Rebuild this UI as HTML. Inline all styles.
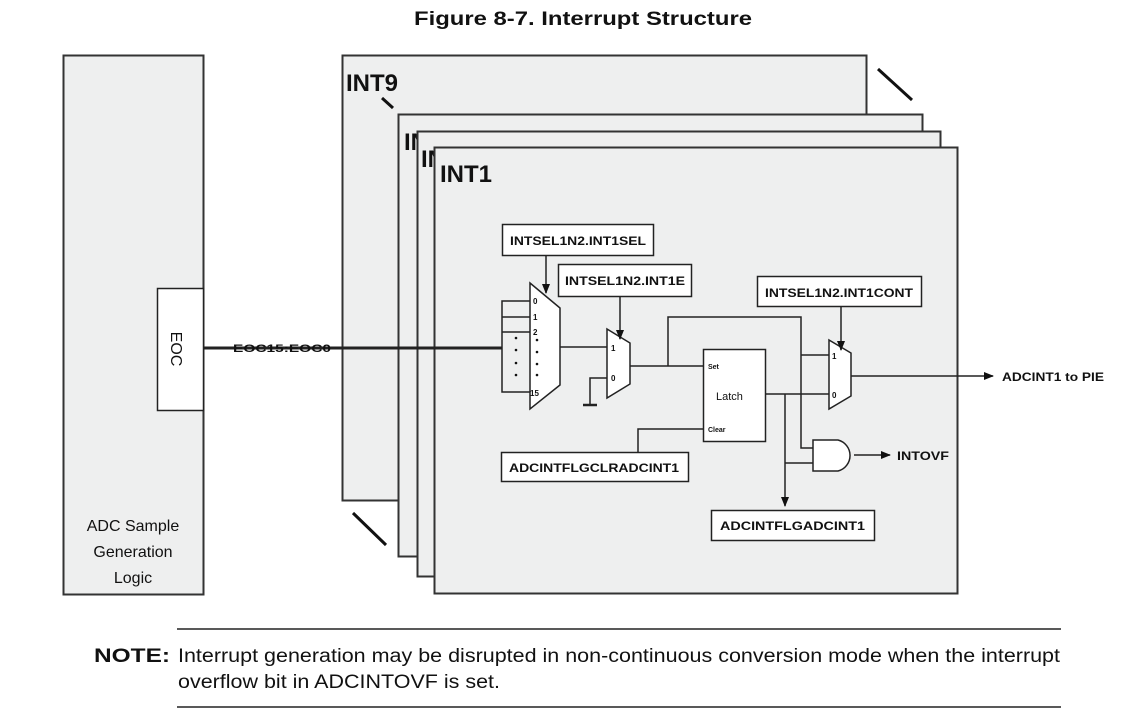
<!DOCTYPE html>
<html><head><meta charset="utf-8"><style>
html,body{margin:0;padding:0;background:#fff;}
svg{display:block;}
text{font-family:"Liberation Sans",Arial,sans-serif;fill:#111;}
</style></head><body>
<svg width="1135" height="728" viewBox="0 0 1135 728" xmlns="http://www.w3.org/2000/svg">
<defs>
<marker id="ah" markerWidth="10" markerHeight="8" refX="9" refY="4" orient="auto" markerUnits="userSpaceOnUse">
<path d="M0,0 L10,4 L0,8 z" fill="#111"/></marker>
</defs>
<text x="583" y="25" font-size="19" font-weight="bold" text-anchor="middle" textLength="338" lengthAdjust="spacingAndGlyphs">Figure 8-7. Interrupt Structure</text>

<!-- ADC box -->
<rect x="63.5" y="55.5" width="140" height="539" fill="#eeefef" stroke="#333" stroke-width="2"/>
<text x="133" y="531" font-size="16" text-anchor="middle">ADC Sample</text>
<text x="133" y="557" font-size="16" text-anchor="middle">Generation</text>
<text x="133" y="583" font-size="16" text-anchor="middle">Logic</text>
<rect x="157.5" y="288.5" width="46" height="122" fill="#fff" stroke="#222" stroke-width="1.5"/>
<text transform="translate(171,349) rotate(90)" font-size="16" text-anchor="middle">EOC</text>

<!-- stacked boxes -->
<rect x="342.5" y="55.5" width="524" height="445" fill="#eeefef" stroke="#333" stroke-width="2"/>
<text x="346" y="91" font-size="24" font-weight="bold">INT9</text>
<line x1="382" y1="98" x2="393" y2="108" stroke="#111" stroke-width="3"/>
<line x1="878" y1="69" x2="912" y2="100" stroke="#111" stroke-width="3"/>
<line x1="353" y1="513" x2="386" y2="545" stroke="#111" stroke-width="3"/>
<rect x="398.5" y="114.5" width="524" height="442" fill="#eeefef" stroke="#333" stroke-width="2"/>
<text x="404" y="150" font-size="24" font-weight="bold">INT8</text>
<rect x="417.5" y="131.5" width="523" height="445" fill="#eeefef" stroke="#333" stroke-width="2"/>
<text x="421" y="167" font-size="24" font-weight="bold">INT2</text>
<rect x="434.5" y="147.5" width="523" height="446" fill="#eeefef" stroke="#333" stroke-width="2"/>
<text x="440" y="182" font-size="24" font-weight="bold">INT1</text>

<g stroke="#222" stroke-width="1.5" fill="none">
<line x1="203" y1="348" x2="502" y2="348" stroke-width="3"/>
<polyline points="530,301 502,301 502,392 530,392"/>
<line x1="502" y1="317" x2="530" y2="317"/>
<line x1="502" y1="332" x2="530" y2="332"/>
<polygon points="530,283 560,308 560,385 530,409" fill="#fff"/>
<line x1="560" y1="347" x2="607" y2="347"/>
<rect x="502.5" y="224.5" width="151" height="31" fill="#fff"/>
<line x1="546" y1="256" x2="546" y2="293" marker-end="url(#ah)"/>
<polygon points="607,329 630,343 630,384 607,398" fill="#fff"/>
<rect x="558.5" y="264.5" width="133" height="32" fill="#fff"/>
<line x1="620" y1="297" x2="620" y2="339" marker-end="url(#ah)"/>
<polyline points="607,378 590,378 590,404"/>
<line x1="583" y1="405" x2="597" y2="405" stroke-width="2.5"/>
<line x1="630" y1="366" x2="703" y2="366"/>
<polyline points="668,366 668,317 801,317 801,448 813,448"/>
<line x1="801" y1="355" x2="829" y2="355"/>
<rect x="703.5" y="349.5" width="62" height="92" fill="#fff"/>
<line x1="765" y1="394" x2="829" y2="394"/>
<line x1="785" y1="394" x2="785" y2="506" marker-end="url(#ah)"/>
<line x1="785" y1="463" x2="813" y2="463"/>
<polyline points="703,429 638,429 638,452"/>
<rect x="501.5" y="452.5" width="187" height="29" fill="#fff"/>
<path d="M813,440 L838,440 A16,16 0 0 1 838,471 L813,471 Z" fill="#fff"/>
<line x1="854" y1="455" x2="890" y2="455" marker-end="url(#ah)"/>
<rect x="711.5" y="510.5" width="163" height="30" fill="#fff"/>
<polygon points="829,340 851,353 851,396 829,409" fill="#fff"/>
<rect x="757.5" y="276.5" width="164" height="30" fill="#fff"/>
<line x1="841" y1="307" x2="841" y2="350" marker-end="url(#ah)"/>
<line x1="851" y1="376" x2="993" y2="376" marker-end="url(#ah)"/>
</g>

<text x="233" y="352" font-size="11" font-weight="bold" textLength="98" lengthAdjust="spacingAndGlyphs">EOC15:EOC0</text>
<g font-size="8" font-weight="bold">
<text x="533" y="304">0</text><text x="533" y="320">1</text><text x="533" y="335">2</text><text x="530" y="396">15</text>
<text x="611" y="351">1</text><text x="611" y="381">0</text>
<text x="832" y="359">1</text><text x="832" y="398">0</text>
<text x="708" y="369" font-size="7">Set</text>
<text x="708" y="432" font-size="7">Clear</text>
</g>
<text x="716" y="400" font-size="11">Latch</text>
<g fill="#111">
<circle cx="516" cy="338" r="1.3"/><circle cx="516" cy="350" r="1.3"/><circle cx="516" cy="363" r="1.3"/><circle cx="516" cy="375" r="1.3"/>
<circle cx="537" cy="340" r="1.3"/><circle cx="537" cy="352" r="1.3"/><circle cx="537" cy="364" r="1.3"/><circle cx="537" cy="375" r="1.3"/>
</g>
<g font-size="12" font-weight="bold">
<text x="510" y="245" textLength="136" lengthAdjust="spacingAndGlyphs">INTSEL1N2.INT1SEL</text>
<text x="565" y="285" textLength="120" lengthAdjust="spacingAndGlyphs">INTSEL1N2.INT1E</text>
<text x="765" y="297" textLength="148" lengthAdjust="spacingAndGlyphs">INTSEL1N2.INT1CONT</text>
<text x="509" y="472" textLength="170" lengthAdjust="spacingAndGlyphs">ADCINTFLGCLRADCINT1</text>
<text x="720" y="530" textLength="145" lengthAdjust="spacingAndGlyphs">ADCINTFLGADCINT1</text>
<text x="897" y="460" textLength="52" lengthAdjust="spacingAndGlyphs">INTOVF</text>
<text x="1002" y="381" textLength="102" lengthAdjust="spacingAndGlyphs">ADCINT1 to PIE</text>
</g>

<line x1="177" y1="629" x2="1061" y2="629" stroke="#222" stroke-width="1.5"/>
<line x1="177" y1="707" x2="1061" y2="707" stroke="#222" stroke-width="1.5"/>
<text x="94" y="662" font-size="19" font-weight="bold" textLength="76" lengthAdjust="spacingAndGlyphs">NOTE:</text>
<text x="178" y="662" font-size="19" textLength="882" lengthAdjust="spacingAndGlyphs">Interrupt generation may be disrupted in non-continuous conversion mode when the interrupt</text>
<text x="178" y="688" font-size="19" textLength="322" lengthAdjust="spacingAndGlyphs">overflow bit in ADCINTOVF is set.</text>
</svg>
</body></html>
